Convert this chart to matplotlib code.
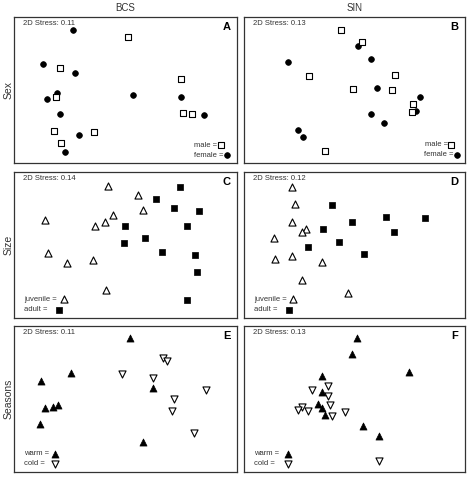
import matplotlib
matplotlib.use('Agg')
import matplotlib.pyplot as plt

plt.rcParams['font.family'] = ['Liberation Sans', 'DejaVu Sans']

# NMDS ordination coordinates (panel-scaled, 0..1)
# A: BCS / Sex
a_female_x = [0.265, 0.130, 0.274, 0.193, 0.148, 0.205, 0.291, 0.227, 0.534, 0.747, 0.852]
a_female_y = [0.909, 0.678, 0.619, 0.482, 0.436, 0.333, 0.194, 0.075, 0.463, 0.452, 0.326]
a_male_x = [0.513, 0.208, 0.190, 0.750, 0.756, 0.797, 0.179, 0.357, 0.211]
a_male_y = [0.865, 0.653, 0.450, 0.578, 0.345, 0.336, 0.221, 0.210, 0.139]

# B: SIN / Sex
b_female_x = [0.198, 0.514, 0.573, 0.602, 0.798, 0.778, 0.573, 0.632, 0.243, 0.267]
b_female_y = [0.689, 0.800, 0.714, 0.511, 0.450, 0.359, 0.339, 0.277, 0.225, 0.177]
b_male_x = [0.440, 0.532, 0.293, 0.682, 0.495, 0.670, 0.763, 0.760, 0.367]
b_male_y = [0.909, 0.830, 0.595, 0.605, 0.505, 0.500, 0.402, 0.352, 0.082]

# C: BCS / Size
c_juv_x = [0.420, 0.555, 0.578, 0.445, 0.408, 0.365, 0.139, 0.151, 0.239, 0.354, 0.411]
c_juv_y = [0.904, 0.840, 0.737, 0.703, 0.658, 0.632, 0.671, 0.443, 0.379, 0.395, 0.192]
c_adult_x = [0.743, 0.637, 0.717, 0.831, 0.498, 0.776, 0.587, 0.493, 0.664, 0.813, 0.819, 0.776]
c_adult_y = [0.895, 0.815, 0.753, 0.733, 0.632, 0.632, 0.548, 0.514, 0.452, 0.429, 0.315, 0.126]

# D: SIN / Size
d_juv_x = [0.216, 0.229, 0.219, 0.279, 0.261, 0.134, 0.140, 0.216, 0.353, 0.261, 0.471]
d_juv_y = [0.898, 0.784, 0.655, 0.607, 0.589, 0.545, 0.402, 0.425, 0.384, 0.259, 0.173]
d_adult_x = [0.398, 0.644, 0.819, 0.489, 0.359, 0.677, 0.431, 0.288, 0.543]
d_adult_y = [0.777, 0.691, 0.682, 0.657, 0.607, 0.586, 0.523, 0.489, 0.436]

# E: BCS / Seasons
e_warm_x = [0.519, 0.256, 0.119, 0.623, 0.139, 0.173, 0.196, 0.115, 0.580]
e_warm_y = [0.920, 0.680, 0.622, 0.577, 0.437, 0.444, 0.458, 0.330, 0.204]
e_cold_x = [0.667, 0.685, 0.484, 0.622, 0.862, 0.716, 0.708, 0.807]
e_cold_y = [0.783, 0.760, 0.668, 0.641, 0.565, 0.497, 0.421, 0.268]

# F: SIN / Seasons
f_warm_x = [0.510, 0.489, 0.745, 0.351, 0.353, 0.335, 0.353, 0.367, 0.537, 0.611]
f_warm_y = [0.920, 0.805, 0.684, 0.657, 0.547, 0.465, 0.435, 0.389, 0.314, 0.249]
f_cold_x = [0.309, 0.382, 0.379, 0.389, 0.261, 0.243, 0.291, 0.398, 0.455, 0.609]
f_cold_y = [0.565, 0.586, 0.522, 0.458, 0.446, 0.423, 0.416, 0.387, 0.410, 0.073]

stress = ['0.11', '0.13', '0.14', '0.12', '0.11', '0.13']
letters = ['A', 'B', 'C', 'D', 'E', 'F']
col_titles = ['BCS', 'SIN']
row_titles = ['Sex', 'Size', 'Seasons']

sq_open = dict(marker='s', s=20, facecolor='white', edgecolor='black', linewidths=0.8)
circ = dict(marker='o', s=17, facecolor='black', edgecolor='black', linewidths=0.5)
tri_open = dict(marker='^', s=26, facecolor='white', edgecolor='black', linewidths=0.8)
sq_fill = dict(marker='s', s=20, facecolor='black', edgecolor='black', linewidths=0.5)
tri_fill = dict(marker='^', s=26, facecolor='black', edgecolor='black', linewidths=0.5)
tri_down = dict(marker='v', s=26, facecolor='white', edgecolor='black', linewidths=0.8)

fig = plt.figure(figsize=(4.74, 4.78), dpi=100)
lefts = [0.0295, 0.5148]
widths = [0.4705, 0.466]
bottoms = [0.659, 0.3347, 0.01255]
height = 0.3054

axes = []
for r in range(3):
    for c in range(2):
        ax = fig.add_axes([lefts[c], bottoms[r], widths[c], height])
        ax.set_xlim(0, 1)
        ax.set_ylim(0, 1)
        ax.set_xticks([])
        ax.set_yticks([])
        for sp in ax.spines.values():
            sp.set_linewidth(0.9)
            sp.set_color('#333333')
        axes.append(ax)

axA, axB, axC, axD, axE, axF = axes

# Row 1: sex
for ax, fx, fy, mx, my in [(axA, a_female_x, a_female_y, a_male_x, a_male_y),
                           (axB, b_female_x, b_female_y, b_male_x, b_male_y)]:
    ax.scatter(fx, fy, zorder=3, **circ)
    ax.scatter(mx, my, zorder=3, **sq_open)

axA.text(0.910, 0.121, 'male =', ha='right', va='center', fontsize=5.5, color='#333333')
axA.scatter([0.928], [0.121], **sq_open)
axA.text(0.940, 0.053, 'female =', ha='right', va='center', fontsize=5.5, color='#333333')
axA.scatter([0.954], [0.053], **circ)
axB.text(0.922, 0.125, 'male =', ha='right', va='center', fontsize=5.5, color='#333333')
axB.scatter([0.937], [0.125], **sq_open)
axB.text(0.950, 0.057, 'female =', ha='right', va='center', fontsize=5.5, color='#333333')
axB.scatter([0.962], [0.057], **circ)

# Row 2: size
for ax, jx, jy, ax_, ay in [(axC, c_juv_x, c_juv_y, c_adult_x, c_adult_y),
                            (axD, d_juv_x, d_juv_y, d_adult_x, d_adult_y)]:
    ax.scatter(jx, jy, zorder=3, **tri_open)
    ax.scatter(ax_, ay, zorder=3, **sq_fill)

for ax, jm, am in [(axC, 0.224, 0.202), (axD, 0.220, 0.202)]:
    ax.text(0.047, 0.128, 'juvenile =', ha='left', va='center', fontsize=5.5, color='#333333')
    ax.scatter([jm], [0.128], **tri_open)
    ax.text(0.047, 0.057, 'adult =', ha='left', va='center', fontsize=5.5, color='#333333')
    ax.scatter([am], [0.057], **sq_fill)

# Row 3: seasons
for ax, wx, wy, cx, cy in [(axE, e_warm_x, e_warm_y, e_cold_x, e_cold_y),
                           (axF, f_warm_x, f_warm_y, f_cold_x, f_cold_y)]:
    ax.scatter(wx, wy, zorder=3, **tri_fill)
    ax.scatter(cx, cy, zorder=3, **tri_down)

for ax, mk in [(axE, 0.185), (axF, 0.201)]:
    ax.text(0.047, 0.124, 'warm =', ha='left', va='center', fontsize=5.5, color='#333333')
    ax.scatter([mk], [0.124], **tri_fill)
    ax.text(0.047, 0.055, 'cold =', ha='left', va='center', fontsize=5.5, color='#333333')
    ax.scatter([mk], [0.055], **tri_down)

for ax, st, lt in zip(axes, stress, letters):
    ax.text(0.04, 0.955, '2D Stress: ' + st, ha='left', va='center', fontsize=5.5, color='#333333')
    ax.text(0.97, 0.935, lt, ha='right', va='center', fontsize=8, fontweight='bold')

for c, t in enumerate(col_titles):
    fig.text(lefts[c] + widths[c] / 2, 1 - 8 / 478, t, ha='center', va='center', fontsize=7, color='#333333')
for r, t in enumerate(row_titles):
    fig.text(9 / 474, bottoms[r] + height / 2, t, ha='center', va='center', rotation=90,
             fontsize=7.5, color='#333333')

fig.savefig('out.png', dpi=100)
